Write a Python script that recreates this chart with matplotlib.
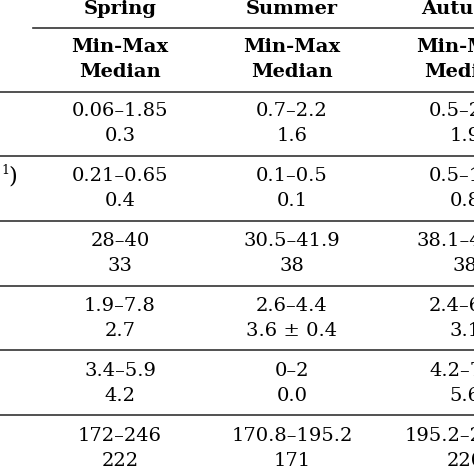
import matplotlib.pyplot as plt

seasons = ['Spring', 'Summer', 'Autumn']
spring_range = ['0.06–1.85', '0.21–0.65', '28–40', '1.9–7.8', '3.4–5.9', '172–246']
spring_median = ['0.3', '0.4', '33', '2.7', '4.2', '222']
summer_range = ['0.7–2.2', '0.1–0.5', '30.5–41.9', '2.6–4.4', '0–2', '170.8–195.2']
summer_median = ['1.6', '0.1', '38', '3.6 ± 0.4', '0.0', '171']
autumn_range = ['0.5–2.4', '0.5–1.2', '38.1–44.6', '2.4–6.1', '4.2–7.0', '195.2–240.1']
autumn_median = ['1.9', '0.8', '38', '3.1', '5.6', '220']

W = H = 474
fig = plt.figure(figsize=(W / 100, H / 100), dpi=100)
plt.rcParams['font.family'] = ['DejaVu Serif']

def px(x, y):
    return x / W, 1 - y / H

col_x = [120, 292, 465]
fs = 14

for x, s in zip(col_x, seasons):
    fig.text(*px(x, 9), s, ha='center', va='center', fontsize=fs, fontweight='bold')
    fig.text(*px(x, 47), 'Min-Max', ha='center', va='center', fontsize=fs, fontweight='bold')
    fig.text(*px(x, 72), 'Median', ha='center', va='center', fontsize=fs, fontweight='bold')

columns = [(spring_range, spring_median), (summer_range, summer_median), (autumn_range, autumn_median)]
for i in range(len(spring_range)):
    y0 = 111 + i * 65
    for x, (rng, med) in zip(col_x, columns):
        fig.text(*px(x, y0), rng[i], ha='center', va='center', fontsize=fs)
        fig.text(*px(x, y0 + 25), med[i], ha='center', va='center', fontsize=fs)

# partial row label visible at left edge
fig.text(*px(1, 170), '1', ha='left', va='center', fontsize=9)
fig.text(*px(8, 177), ')', ha='left', va='center', fontsize=fs + 2)

def hline(y, x0=0, lw=1.2):
    fig.add_artist(plt.Line2D([x0 / W, 1], [1 - y / H] * 2, color='#333333', lw=lw))

hline(28, 33)
for y in [92, 156, 221, 286, 350, 415]:
    hline(y)

fig.savefig('out.png', dpi=100)
